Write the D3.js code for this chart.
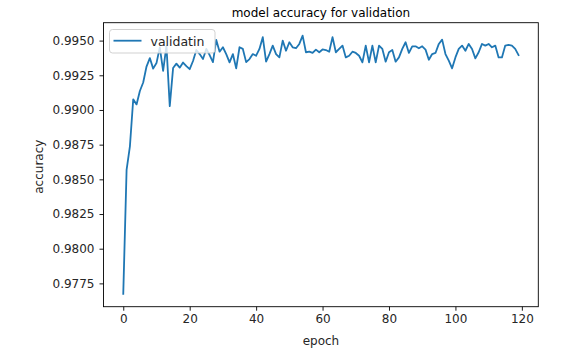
<!DOCTYPE html>
<html>
<head>
<meta charset="utf-8">
<script src="https://cdn.jsdelivr.net/npm/d3@7"></script>
<style>
  body { margin: 0; background: #fff; }
  svg { display: block; font-family: "DejaVu Sans", sans-serif; }
</style>
</head>
<body>
<svg id="chart" width="564" height="357"></svg>
<script>
// ---- data ----
const title = "model accuracy for validation";
const xLabel = "epoch";
const yLabel = "accuracy";
const seriesName = "validatin";
const accuracy = [
  0.97675, 0.98568, 0.98738, 0.99077, 0.99040, 0.99137, 0.99198, 0.99313, 0.99374, 0.99298,
  0.99338, 0.99451, 0.99282, 0.99462, 0.99028, 0.99302, 0.99334, 0.99305, 0.99342, 0.99316,
  0.99294, 0.99353, 0.99432, 0.99403, 0.99367, 0.99440, 0.99396, 0.99345, 0.99505, 0.99420,
  0.99452, 0.99403, 0.99343, 0.99403, 0.99300, 0.99452, 0.99440, 0.99345, 0.99367, 0.99403,
  0.99391, 0.99440, 0.99525, 0.99348, 0.99403, 0.99464, 0.99403, 0.99379, 0.99500, 0.99427,
  0.99488, 0.99452, 0.99445, 0.99476, 0.99536, 0.99416, 0.99420, 0.99411, 0.99435, 0.99416,
  0.99436, 0.99432, 0.99420, 0.99525, 0.99416, 0.99440, 0.99464, 0.99379, 0.99391, 0.99420,
  0.99411, 0.99391, 0.99343, 0.99464, 0.99343, 0.99464, 0.99343, 0.99464, 0.99440, 0.99348,
  0.99416, 0.99432, 0.99348, 0.99379, 0.99440, 0.99488, 0.99411, 0.99459, 0.99459, 0.99445,
  0.99459, 0.99435, 0.99362, 0.99403, 0.99411, 0.99476, 0.99507, 0.99403, 0.99355, 0.99300,
  0.99379, 0.99440, 0.99464, 0.99427, 0.99476, 0.99440, 0.99372, 0.99416, 0.99476, 0.99464,
  0.99476, 0.99452, 0.99464, 0.99379, 0.99379, 0.99464, 0.99469, 0.99464, 0.99440, 0.99396
];
const epochs = accuracy.map((_, i) => i);
const xTicks = [0, 20, 40, 60, 80, 100, 120];
const yTicks = [0.9775, 0.9800, 0.9825, 0.9850, 0.9875, 0.9900, 0.9925, 0.9950];

// ---- layout ----
const svg = d3.select("#chart");
const L = 103.5, R = 538.3, T = 22.7, B = 306.7;
const color = "#1f77b4";
const fs = "12px";

const xMin = d3.min(epochs), xMax = d3.max(epochs);
const xPad = (xMax - xMin) * 0.05;
const yMin = d3.min(accuracy), yMax = d3.max(accuracy);
const yPad = (yMax - yMin) * 0.05;

const x = d3.scaleLinear().domain([xMin - xPad, xMax + xPad]).range([L, R]);
const y = d3.scaleLinear().domain([yMin - yPad, yMax + yPad]).range([B, T]);

// axes
const xAxis = d3.axisBottom(x).tickValues(xTicks).tickFormat(d3.format("d"))
  .tickSizeInner(4).tickSizeOuter(0).tickPadding(4);
const yAxis = d3.axisLeft(y).tickValues(yTicks).tickFormat(d3.format(".4f"))
  .tickSizeInner(4).tickSizeOuter(0).tickPadding(5);

const gx = svg.append("g").attr("transform", `translate(0,${B})`).call(xAxis);
const gy = svg.append("g").attr("transform", `translate(${L},0)`).call(yAxis);
[gx, gy].forEach(g => {
  g.select(".domain").remove();
  g.selectAll(".tick line").attr("stroke", "#000").attr("stroke-width", 0.9);
  g.selectAll(".tick text").attr("fill", "#262626").style("font-size", fs)
    .style("font-family", "'DejaVu Sans', sans-serif");
});

// line
const line = d3.line().x((d, i) => x(epochs[i])).y(d => y(d));
svg.append("path").datum(accuracy)
  .attr("d", line).attr("fill", "none").attr("stroke", color)
  .attr("stroke-width", 1.8).attr("stroke-linejoin", "round").attr("stroke-linecap", "square");

// spines
svg.append("rect").attr("x", L).attr("y", T).attr("width", R - L).attr("height", B - T)
  .attr("fill", "none").attr("stroke", "#000").attr("stroke-width", 0.9);

// title & labels
svg.append("text").attr("x", (L + R) / 2).attr("y", 16.5).attr("text-anchor", "middle")
  .attr("fill", "#000").style("font-size", "12px").text(title);
svg.append("text").attr("x", (L + R) / 2).attr("y", 345).attr("text-anchor", "middle")
  .attr("fill", "#262626").style("font-size", fs).text(xLabel);
svg.append("text").attr("transform", `translate(42.5,${(T + B) / 2 + 2}) rotate(-90)`)
  .attr("text-anchor", "middle").attr("fill", "#262626").style("font-size", fs).text(yLabel);

// legend
const lg = svg.append("g");
lg.append("rect").attr("x", 109.5).attr("y", 29.5).attr("width", 105.5).attr("height", 23.5)
  .attr("rx", 3).attr("fill", "#fff").attr("fill-opacity", 0.8)
  .attr("stroke", "#cccccc").attr("stroke-width", 0.9);
lg.append("line").attr("x1", 113.5).attr("x2", 141.5).attr("y1", 40.7).attr("y2", 40.7)
  .attr("stroke", color).attr("stroke-width", 1.8);
lg.append("text").attr("x", 150.5).attr("y", 45.5).attr("fill", "#262626")
  .style("font-size", "12.5px").text(seriesName);
</script>
</body>
</html>
